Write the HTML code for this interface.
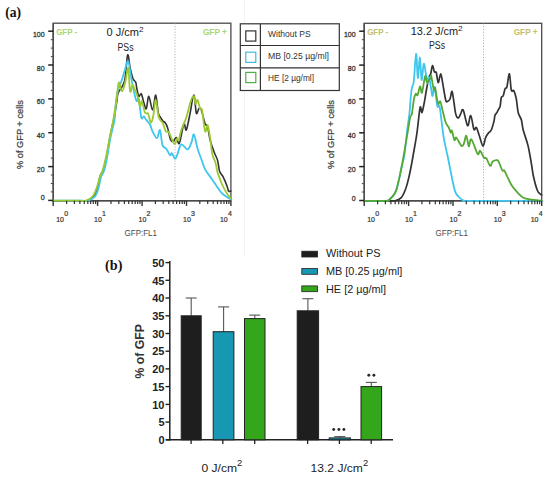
<!DOCTYPE html>
<html><head><meta charset="utf-8"><style>
html,body{margin:0;padding:0;background:#fff;width:550px;height:479px;overflow:hidden}
svg{display:block}
</style></head><body>
<svg width="550" height="479" viewBox="0 0 550 479">
<rect width="550" height="479" fill="#fff"/>
<text x="5.2" y="17.2" font-family="Liberation Serif, serif" font-weight="bold" font-size="14" fill="#111" textLength="15.8" lengthAdjust="spacingAndGlyphs">(a)</text>
<rect x="53.2" y="23.2" width="177.7" height="177.5" fill="none" stroke="#4a4a4a" stroke-width="1.3"/>
<line x1="175" y1="23.2" x2="175" y2="200.7" stroke="#a0a0a0" stroke-width="0.8" stroke-dasharray="1.2,1.6"/>
<line x1="53.2" y1="200.7" x2="230.9" y2="200.7" stroke="#4a4a4a" stroke-width="1.4"/>
<line x1="53.2" y1="23.2" x2="53.2" y2="200.7" stroke="#4a4a4a" stroke-width="1.3"/>
<path fill="none" stroke="#333333" stroke-width="1.6" stroke-linejoin="round" stroke-linecap="round" d="M53.0,200.7 C57.5,200.7 74.3,200.7 80.0,200.7 C85.7,200.7 84.7,201.4 87.0,200.7 C89.3,200.0 92.0,198.6 93.8,196.4 C95.6,194.2 96.5,190.9 97.6,187.6 C98.6,184.2 99.2,179.2 100.1,176.3 C101.0,173.4 102.2,173.1 103.2,170.0 C104.2,166.9 105.2,163.1 106.4,157.5 C107.6,151.9 108.8,142.8 110.1,136.3 C111.3,129.9 112.8,124.8 113.9,118.8 C115.1,112.8 116.3,104.4 117.0,100.0 C117.7,95.6 117.0,95.7 118.2,92.6 C119.5,89.5 122.9,87.6 124.5,81.3 C126.1,75.0 126.7,57.3 127.6,55.0 C128.5,52.7 129.3,63.8 130.1,67.6 C130.9,71.4 132.0,75.5 132.6,77.6 C133.2,79.7 133.3,79.2 133.8,80.0 C134.3,80.8 135.3,81.1 135.8,82.6 C136.3,84.1 136.4,86.5 136.9,88.8 C137.4,91.1 138.1,95.5 138.8,96.3 C139.5,97.1 140.5,92.8 141.3,93.8 C142.1,94.8 143.0,100.1 143.8,102.6 C144.6,105.1 145.5,109.8 146.3,108.8 C147.1,107.8 147.8,96.1 148.8,96.3 C149.9,96.5 151.4,110.2 152.6,110.0 C153.8,109.8 154.8,94.6 155.7,95.0 C156.6,95.4 157.4,108.8 158.2,112.6 C159.0,116.4 159.9,116.1 160.7,117.6 C161.5,119.1 162.5,120.6 163.2,121.4 C163.9,122.2 164.3,121.5 165.0,122.5 C165.7,123.5 166.6,124.6 167.5,127.5 C168.4,130.4 169.7,137.8 170.7,140.0 C171.7,142.2 172.6,141.4 173.5,141.0 C174.4,140.6 175.3,137.1 176.3,137.5 C177.3,137.9 178.2,145.5 179.4,143.2 C180.7,140.9 182.7,126.0 183.8,123.8 C185.0,121.6 185.3,131.7 186.3,130.0 C187.3,128.3 188.8,119.6 190.0,113.8 C191.2,108.0 192.8,95.1 193.8,95.0 C194.9,94.9 195.5,110.9 196.3,113.2 C197.1,115.5 198.0,109.3 198.8,108.8 C199.6,108.3 200.2,107.5 201.3,110.0 C202.4,112.5 204.1,121.2 205.1,123.9 C206.1,126.6 206.8,123.7 207.6,126.4 C208.4,129.1 209.0,135.7 210.1,140.0 C211.2,144.3 212.9,148.8 214.2,152.2 C215.4,155.6 216.7,157.2 217.6,160.4 C218.5,163.6 218.7,168.6 219.6,171.3 C220.5,174.0 221.8,174.2 223.0,176.7 C224.2,179.2 226.2,183.8 227.1,186.2 C228.0,188.6 227.9,190.2 228.5,191.0 C229.1,191.8 230.5,191.0 230.9,191.0"/>
<path fill="none" stroke="#3ec6ee" stroke-width="1.8" stroke-linejoin="round" stroke-linecap="round" d="M53.0,200.7 C57.7,200.7 75.2,200.7 81.0,200.7 C86.8,200.7 85.7,201.4 88.0,200.7 C90.3,200.0 93.2,198.6 95.0,196.5 C96.8,194.4 97.5,191.2 98.5,188.0 C99.5,184.8 100.1,179.8 101.0,177.0 C101.9,174.2 103.0,174.2 104.0,171.0 C105.0,167.8 105.9,163.7 107.0,158.0 C108.1,152.3 109.3,143.3 110.6,137.0 C111.8,130.7 113.7,125.3 114.5,120.0 C115.3,114.7 115.2,109.8 115.7,105.0 C116.2,100.2 116.6,95.4 117.6,91.4 C118.5,87.5 120.2,84.7 121.4,81.3 C122.6,77.9 123.4,74.6 124.5,71.3 C125.6,68.0 127.0,60.0 128.2,61.3 C129.3,62.5 130.3,73.0 131.4,78.8 C132.5,84.6 134.1,92.5 135.0,96.3 C135.9,100.0 136.3,100.9 136.9,101.3 C137.5,101.7 138.1,96.1 138.8,98.8 C139.5,101.5 140.5,114.7 141.3,117.6 C142.1,120.5 143.0,115.9 143.8,116.3 C144.6,116.7 145.3,118.7 146.3,120.1 C147.3,121.5 149.0,122.6 150.0,124.5 C151.0,126.4 151.3,129.0 152.5,131.3 C153.7,133.6 155.7,138.4 156.9,138.2 C158.2,138.0 159.1,128.8 160.0,130.0 C160.9,131.2 161.4,142.0 162.5,145.1 C163.6,148.2 165.1,147.1 166.3,148.8 C167.6,150.5 169.1,154.4 170.0,155.1 C170.9,155.8 171.1,152.6 171.9,153.2 C172.8,153.8 174.2,158.7 175.1,158.8 C176.0,158.9 176.6,156.2 177.6,153.8 C178.6,151.4 179.6,145.1 181.3,144.4 C183.0,143.7 185.9,149.7 187.6,149.4 C189.3,149.1 190.3,145.1 191.4,142.6 C192.5,140.1 192.9,133.4 193.9,134.4 C194.9,135.4 196.4,144.7 197.6,148.8 C198.8,152.9 200.0,155.5 201.3,159.0 C202.6,162.5 203.6,166.5 205.4,169.9 C207.2,173.3 210.2,176.5 212.2,179.4 C214.2,182.3 215.8,185.1 217.6,187.6 C219.4,190.1 220.8,192.4 223.0,194.3 C225.2,196.2 229.2,198.3 230.5,199.1"/>
<path fill="none" stroke="#9cc832" stroke-width="1.8" stroke-linejoin="round" stroke-linecap="round" d="M53.0,200.7 C57.3,200.7 73.5,200.7 79.0,200.7 C84.5,200.7 83.7,201.5 86.0,200.7 C88.3,199.9 91.2,198.3 93.0,196.0 C94.8,193.7 95.8,190.3 97.0,187.0 C98.2,183.7 99.1,178.7 100.0,176.0 C100.9,173.3 101.5,174.2 102.5,171.0 C103.5,167.8 104.8,162.8 106.0,157.0 C107.2,151.2 108.8,142.4 110.0,136.0 C111.2,129.6 112.4,124.8 113.5,118.8 C114.6,112.8 115.6,106.0 116.5,100.0 C117.4,94.0 117.9,84.0 118.8,82.6 C119.7,81.2 120.9,91.6 122.0,91.4 C123.1,91.2 124.4,85.2 125.4,81.3 C126.4,77.4 127.4,66.5 128.2,68.2 C129.0,69.9 129.4,88.6 130.1,91.4 C130.8,94.2 131.7,85.2 132.5,85.0 C133.3,84.8 134.2,88.1 135.0,90.0 C135.8,91.9 136.7,93.6 137.5,96.3 C138.3,99.0 139.3,105.5 140.0,106.3 C140.7,107.1 141.1,100.2 141.9,101.3 C142.7,102.3 143.9,110.5 145.0,112.6 C146.1,114.7 147.2,112.1 148.2,113.8 C149.1,115.5 149.9,122.2 150.7,122.6 C151.5,123.0 152.4,120.1 153.2,116.3 C154.0,112.5 154.8,99.8 155.7,100.0 C156.6,100.2 157.7,113.8 158.8,117.6 C160.0,121.4 161.4,120.3 162.6,122.6 C163.8,124.9 164.7,129.7 165.7,131.3 C166.7,133.0 167.4,130.4 168.8,132.5 C170.2,134.6 173.1,142.8 174.4,143.8 C175.8,144.9 176.2,139.4 176.9,138.8 C177.6,138.2 178.1,141.4 178.8,140.0 C179.5,138.6 180.1,133.8 181.3,130.1 C182.6,126.4 184.7,122.4 186.3,117.6 C187.9,112.8 189.4,104.8 190.7,101.3 C191.9,97.8 193.0,95.9 193.8,96.3 C194.6,96.7 195.1,103.2 195.7,103.8 C196.3,104.4 196.9,99.2 197.6,100.0 C198.3,100.8 199.4,107.1 200.1,108.8 C200.8,110.5 201.2,106.2 202.0,110.0 C202.8,113.8 204.2,128.9 205.1,131.4 C206.0,133.9 206.8,124.1 207.6,125.1 C208.4,126.1 209.3,132.8 210.1,137.6 C210.9,142.3 211.3,149.3 212.2,153.6 C213.1,157.8 214.7,159.9 215.6,163.1 C216.5,166.3 216.6,169.2 217.6,172.6 C218.6,176.0 220.3,180.3 221.7,183.5 C223.1,186.7 224.3,189.1 225.8,191.6 C227.3,194.1 229.7,197.3 230.5,198.4"/>
<line x1="48.2" y1="200.4" x2="53.2" y2="200.4" stroke="#222" stroke-width="1.5"/>
<text x="44.6" y="200.4" font-family="Liberation Sans, sans-serif" font-size="7" fill="#3a3a3a" stroke="#3a3a3a" stroke-width="0.3" text-anchor="end">0</text>
<line x1="50.800000000000004" y1="191.9" x2="53.2" y2="191.9" stroke="#4a4a4a" stroke-width="1"/>
<line x1="50.800000000000004" y1="183.5" x2="53.2" y2="183.5" stroke="#4a4a4a" stroke-width="1"/>
<line x1="50.800000000000004" y1="175.0" x2="53.2" y2="175.0" stroke="#4a4a4a" stroke-width="1"/>
<line x1="48.2" y1="166.6" x2="53.2" y2="166.6" stroke="#222" stroke-width="1.5"/>
<text x="44.6" y="172.1" font-family="Liberation Sans, sans-serif" font-size="7" fill="#3a3a3a" stroke="#3a3a3a" stroke-width="0.3" text-anchor="end">20</text>
<line x1="50.800000000000004" y1="158.1" x2="53.2" y2="158.1" stroke="#4a4a4a" stroke-width="1"/>
<line x1="50.800000000000004" y1="149.6" x2="53.2" y2="149.6" stroke="#4a4a4a" stroke-width="1"/>
<line x1="50.800000000000004" y1="141.2" x2="53.2" y2="141.2" stroke="#4a4a4a" stroke-width="1"/>
<line x1="48.2" y1="132.7" x2="53.2" y2="132.7" stroke="#222" stroke-width="1.5"/>
<text x="44.6" y="138.2" font-family="Liberation Sans, sans-serif" font-size="7" fill="#3a3a3a" stroke="#3a3a3a" stroke-width="0.3" text-anchor="end">40</text>
<line x1="50.800000000000004" y1="124.3" x2="53.2" y2="124.3" stroke="#4a4a4a" stroke-width="1"/>
<line x1="50.800000000000004" y1="115.8" x2="53.2" y2="115.8" stroke="#4a4a4a" stroke-width="1"/>
<line x1="50.800000000000004" y1="107.3" x2="53.2" y2="107.3" stroke="#4a4a4a" stroke-width="1"/>
<line x1="48.2" y1="98.9" x2="53.2" y2="98.9" stroke="#222" stroke-width="1.5"/>
<text x="44.6" y="104.4" font-family="Liberation Sans, sans-serif" font-size="7" fill="#3a3a3a" stroke="#3a3a3a" stroke-width="0.3" text-anchor="end">60</text>
<line x1="50.800000000000004" y1="90.4" x2="53.2" y2="90.4" stroke="#4a4a4a" stroke-width="1"/>
<line x1="50.800000000000004" y1="82.0" x2="53.2" y2="82.0" stroke="#4a4a4a" stroke-width="1"/>
<line x1="50.800000000000004" y1="73.5" x2="53.2" y2="73.5" stroke="#4a4a4a" stroke-width="1"/>
<line x1="48.2" y1="65.0" x2="53.2" y2="65.0" stroke="#222" stroke-width="1.5"/>
<text x="44.6" y="70.5" font-family="Liberation Sans, sans-serif" font-size="7" fill="#3a3a3a" stroke="#3a3a3a" stroke-width="0.3" text-anchor="end">80</text>
<line x1="50.800000000000004" y1="56.6" x2="53.2" y2="56.6" stroke="#4a4a4a" stroke-width="1"/>
<line x1="50.800000000000004" y1="48.1" x2="53.2" y2="48.1" stroke="#4a4a4a" stroke-width="1"/>
<line x1="50.800000000000004" y1="39.7" x2="53.2" y2="39.7" stroke="#4a4a4a" stroke-width="1"/>
<line x1="48.2" y1="31.2" x2="53.2" y2="31.2" stroke="#222" stroke-width="1.5"/>
<text x="44.6" y="36.7" font-family="Liberation Sans, sans-serif" font-size="7" fill="#3a3a3a" stroke="#3a3a3a" stroke-width="0.3" text-anchor="end">100</text>
<line x1="53.2" y1="200.7" x2="53.2" y2="205.89999999999998" stroke="#333" stroke-width="1.4"/>
<line x1="66.6" y1="200.7" x2="66.6" y2="204.1" stroke="#333" stroke-width="1.2"/>
<line x1="74.4" y1="200.7" x2="74.4" y2="204.1" stroke="#333" stroke-width="1.2"/>
<line x1="79.9" y1="200.7" x2="79.9" y2="204.1" stroke="#333" stroke-width="1.2"/>
<line x1="84.3" y1="200.7" x2="84.3" y2="204.1" stroke="#333" stroke-width="1.2"/>
<line x1="87.8" y1="200.7" x2="87.8" y2="204.1" stroke="#333" stroke-width="1.2"/>
<line x1="90.7" y1="200.7" x2="90.7" y2="204.1" stroke="#333" stroke-width="1.2"/>
<line x1="93.3" y1="200.7" x2="93.3" y2="204.1" stroke="#333" stroke-width="1.2"/>
<line x1="95.6" y1="200.7" x2="95.6" y2="204.1" stroke="#333" stroke-width="1.2"/>
<line x1="97.6" y1="200.7" x2="97.6" y2="205.89999999999998" stroke="#333" stroke-width="1.4"/>
<line x1="111.0" y1="200.7" x2="111.0" y2="204.1" stroke="#333" stroke-width="1.2"/>
<line x1="118.8" y1="200.7" x2="118.8" y2="204.1" stroke="#333" stroke-width="1.2"/>
<line x1="124.4" y1="200.7" x2="124.4" y2="204.1" stroke="#333" stroke-width="1.2"/>
<line x1="128.7" y1="200.7" x2="128.7" y2="204.1" stroke="#333" stroke-width="1.2"/>
<line x1="132.2" y1="200.7" x2="132.2" y2="204.1" stroke="#333" stroke-width="1.2"/>
<line x1="135.2" y1="200.7" x2="135.2" y2="204.1" stroke="#333" stroke-width="1.2"/>
<line x1="137.7" y1="200.7" x2="137.7" y2="204.1" stroke="#333" stroke-width="1.2"/>
<line x1="140.0" y1="200.7" x2="140.0" y2="204.1" stroke="#333" stroke-width="1.2"/>
<line x1="142.1" y1="200.7" x2="142.1" y2="205.89999999999998" stroke="#333" stroke-width="1.4"/>
<line x1="155.4" y1="200.7" x2="155.4" y2="204.1" stroke="#333" stroke-width="1.2"/>
<line x1="163.2" y1="200.7" x2="163.2" y2="204.1" stroke="#333" stroke-width="1.2"/>
<line x1="168.8" y1="200.7" x2="168.8" y2="204.1" stroke="#333" stroke-width="1.2"/>
<line x1="173.1" y1="200.7" x2="173.1" y2="204.1" stroke="#333" stroke-width="1.2"/>
<line x1="176.6" y1="200.7" x2="176.6" y2="204.1" stroke="#333" stroke-width="1.2"/>
<line x1="179.6" y1="200.7" x2="179.6" y2="204.1" stroke="#333" stroke-width="1.2"/>
<line x1="182.2" y1="200.7" x2="182.2" y2="204.1" stroke="#333" stroke-width="1.2"/>
<line x1="184.4" y1="200.7" x2="184.4" y2="204.1" stroke="#333" stroke-width="1.2"/>
<line x1="186.5" y1="200.7" x2="186.5" y2="205.89999999999998" stroke="#333" stroke-width="1.4"/>
<line x1="199.8" y1="200.7" x2="199.8" y2="204.1" stroke="#333" stroke-width="1.2"/>
<line x1="207.7" y1="200.7" x2="207.7" y2="204.1" stroke="#333" stroke-width="1.2"/>
<line x1="213.2" y1="200.7" x2="213.2" y2="204.1" stroke="#333" stroke-width="1.2"/>
<line x1="217.5" y1="200.7" x2="217.5" y2="204.1" stroke="#333" stroke-width="1.2"/>
<line x1="221.0" y1="200.7" x2="221.0" y2="204.1" stroke="#333" stroke-width="1.2"/>
<line x1="224.0" y1="200.7" x2="224.0" y2="204.1" stroke="#333" stroke-width="1.2"/>
<line x1="226.6" y1="200.7" x2="226.6" y2="204.1" stroke="#333" stroke-width="1.2"/>
<line x1="228.9" y1="200.7" x2="228.9" y2="204.1" stroke="#333" stroke-width="1.2"/>
<line x1="230.9" y1="200.7" x2="230.9" y2="205.89999999999998" stroke="#333" stroke-width="1.4"/>
<text x="56.2" y="221.5" font-family="Liberation Sans, sans-serif" font-size="7" fill="#333" stroke="#333" stroke-width="0.2">10</text>
<text x="64.2" y="216.4" font-family="Liberation Sans, sans-serif" font-size="7" fill="#333" stroke="#333" stroke-width="0.2">0</text>
<text x="94.1" y="221.5" font-family="Liberation Sans, sans-serif" font-size="7" fill="#333" stroke="#333" stroke-width="0.2">10</text>
<text x="102.1" y="216.4" font-family="Liberation Sans, sans-serif" font-size="7" fill="#333" stroke="#333" stroke-width="0.2">1</text>
<text x="138.6" y="221.5" font-family="Liberation Sans, sans-serif" font-size="7" fill="#333" stroke="#333" stroke-width="0.2">10</text>
<text x="146.6" y="216.4" font-family="Liberation Sans, sans-serif" font-size="7" fill="#333" stroke="#333" stroke-width="0.2">2</text>
<text x="183.0" y="221.5" font-family="Liberation Sans, sans-serif" font-size="7" fill="#333" stroke="#333" stroke-width="0.2">10</text>
<text x="191.0" y="216.4" font-family="Liberation Sans, sans-serif" font-size="7" fill="#333" stroke="#333" stroke-width="0.2">3</text>
<text x="219.9" y="221.5" font-family="Liberation Sans, sans-serif" font-size="7" fill="#333" stroke="#333" stroke-width="0.2">10</text>
<text x="227.9" y="216.4" font-family="Liberation Sans, sans-serif" font-size="7" fill="#333" stroke="#333" stroke-width="0.2">4</text>
<text x="124.60000000000001" y="235.8" font-family="Liberation Sans, sans-serif" font-size="9" fill="#4a4a4a" textLength="32.3" lengthAdjust="spacingAndGlyphs">GFP:FL1</text>
<text transform="translate(23.400000000000002,169) rotate(-90)" x="0" y="0" font-family="Liberation Sans, sans-serif" font-size="9.6" fill="#444" stroke="#444" stroke-width="0.25" textLength="69" lengthAdjust="spacingAndGlyphs">% of GFP + cells</text>
<text x="56.2" y="35" font-family="Liberation Sans, sans-serif" font-weight="bold" font-size="8.5" fill="#a9d675" textLength="21" lengthAdjust="spacingAndGlyphs">GFP -</text>
<text x="202.9" y="35" font-family="Liberation Sans, sans-serif" font-weight="bold" font-size="8.5" fill="#a9d675" textLength="24" lengthAdjust="spacingAndGlyphs">GFP +</text>
<text x="106.6" y="36.2" font-family="Liberation Sans, sans-serif" font-size="10" fill="#222" textLength="37" lengthAdjust="spacingAndGlyphs">0 J/cm<tspan dy="-3.8" font-size="7.5">2</tspan></text>
<text x="117.5" y="50.6" font-family="Liberation Sans, sans-serif" font-size="10" fill="#222" textLength="16" lengthAdjust="spacingAndGlyphs">PSs</text>
<rect x="364.2" y="23.3" width="177.50000000000006" height="177.5" fill="none" stroke="#4a4a4a" stroke-width="1.3"/>
<line x1="483.5" y1="23.3" x2="483.5" y2="200.8" stroke="#a0a0a0" stroke-width="0.8" stroke-dasharray="1.2,1.6"/>
<line x1="364.2" y1="200.8" x2="541.7" y2="200.8" stroke="#4a4a4a" stroke-width="1.4"/>
<line x1="364.2" y1="23.3" x2="364.2" y2="200.8" stroke="#4a4a4a" stroke-width="1.3"/>
<path fill="none" stroke="#333333" stroke-width="1.7" stroke-linejoin="round" stroke-linecap="round" d="M364.0,200.8 C368.0,200.8 382.8,200.8 388.0,200.8 C393.2,200.8 392.8,201.3 395.0,200.8 C397.2,200.3 399.5,199.6 401.3,197.6 C403.1,195.6 404.4,192.1 405.7,188.8 C406.9,185.5 407.9,181.6 408.8,177.6 C409.8,173.6 410.7,168.8 411.4,165.0 C412.1,161.2 412.3,160.4 413.2,155.0 C414.1,149.6 415.9,140.5 417.0,132.6 C418.1,124.7 419.3,110.8 420.1,107.5 C420.9,104.2 421.3,113.5 422.0,112.5 C422.7,111.5 423.8,105.0 424.5,101.3 C425.2,97.5 425.7,94.0 426.4,90.0 C427.1,86.0 428.2,80.3 428.9,77.6 C429.6,74.9 430.1,75.8 430.7,73.8 C431.3,71.8 431.9,65.9 432.5,65.6 C433.1,65.3 433.8,70.8 434.4,71.9 C435.0,73.1 435.7,70.7 436.3,72.5 C436.9,74.3 437.5,82.4 438.2,82.6 C438.9,82.8 440.0,73.8 440.7,73.8 C441.4,73.8 441.8,78.2 442.6,82.6 C443.4,87.0 444.9,97.0 445.7,100.1 C446.5,103.2 446.9,101.6 447.6,101.4 C448.3,101.2 449.4,100.5 450.1,98.8 C450.8,97.1 451.4,90.9 452.0,91.3 C452.6,91.7 453.2,97.6 453.8,101.4 C454.4,105.2 455.0,111.1 455.7,113.9 C456.4,116.7 457.4,118.1 458.2,118.1 C459.0,118.1 459.9,115.1 460.7,113.8 C461.5,112.5 462.0,108.0 463.2,110.0 C464.4,112.0 466.4,124.8 467.6,125.7 C468.9,126.6 469.6,115.0 470.7,115.6 C471.8,116.2 472.9,127.4 473.9,129.4 C474.8,131.4 475.5,126.3 476.4,127.5 C477.3,128.7 478.4,133.2 479.5,136.3 C480.6,139.4 482.0,145.8 483.0,146.0 C484.0,146.2 484.7,139.8 485.6,137.6 C486.5,135.4 487.6,134.2 488.5,132.9 C489.4,131.6 490.4,132.1 491.3,130.0 C492.2,128.0 493.5,123.1 494.1,120.6 C494.7,118.1 494.5,116.4 495.0,115.1 C495.5,113.8 496.3,113.6 496.9,112.6 C497.5,111.6 498.3,109.9 498.8,108.9 C499.3,107.9 499.7,108.3 500.1,106.4 C500.5,104.5 500.8,99.4 501.3,97.6 C501.8,95.8 502.6,97.2 503.2,95.7 C503.8,94.2 504.5,90.3 505.1,88.8 C505.7,87.3 506.2,89.4 506.9,86.9 C507.6,84.4 508.7,73.3 509.4,73.8 C510.1,74.3 510.6,87.3 511.3,90.1 C512.0,92.9 513.0,89.2 513.8,90.7 C514.6,92.2 515.6,95.2 516.3,98.8 C517.0,102.4 517.4,109.1 518.2,112.6 C519.1,116.1 520.6,117.1 521.4,120.0 C522.2,122.9 522.1,125.8 523.2,130.0 C524.3,134.2 526.6,140.1 527.9,145.1 C529.2,150.1 529.8,154.8 530.8,160.1 C531.8,165.4 532.5,172.0 533.6,177.0 C534.7,182.0 536.2,187.4 537.3,190.2 C538.4,193.0 539.5,193.2 540.2,194.0 C540.9,194.8 541.5,194.8 541.7,194.9"/>
<path fill="none" stroke="#3ec6ee" stroke-width="1.8" stroke-linejoin="round" stroke-linecap="round" d="M364.0,200.8 C366.8,200.8 377.1,200.8 381.0,200.8 C384.9,200.8 385.6,201.5 387.5,200.8 C389.4,200.1 391.1,198.2 392.6,196.4 C394.1,194.6 395.2,193.2 396.3,190.1 C397.4,187.0 398.4,181.8 399.4,177.6 C400.3,173.4 401.2,168.8 402.0,165.0 C402.8,161.2 403.6,160.4 404.4,155.0 C405.2,149.6 406.1,139.5 406.9,132.6 C407.7,125.7 408.8,119.2 409.4,113.8 C410.0,108.4 410.1,104.4 410.5,100.0 C410.9,95.6 411.4,90.7 412.0,87.6 C412.6,84.5 413.1,87.0 413.8,81.4 C414.5,75.8 415.4,54.4 416.1,53.8 C416.8,53.2 417.2,77.4 417.8,78.0 C418.4,78.6 419.3,57.2 419.9,57.5 C420.5,57.8 421.0,79.0 421.6,80.0 C422.2,81.0 423.1,64.8 423.8,63.8 C424.5,62.8 425.3,70.8 425.9,74.0 C426.5,77.2 427.1,82.5 427.6,83.0 C428.1,83.5 428.4,76.2 429.0,77.0 C429.6,77.8 430.4,84.8 431.0,88.0 C431.6,91.2 432.0,96.2 432.6,96.0 C433.2,95.8 433.8,85.3 434.6,87.0 C435.4,88.7 436.5,102.8 437.3,106.0 C438.1,109.2 438.8,104.0 439.5,106.3 C440.2,108.6 440.7,114.7 441.4,120.0 C442.1,125.3 443.0,133.0 443.8,138.0 C444.6,143.0 445.6,146.6 446.3,150.1 C447.0,153.6 447.3,154.2 448.2,158.8 C449.1,163.4 450.8,172.2 451.9,177.6 C453.0,183.0 454.0,188.2 455.1,191.4 C456.2,194.6 457.4,195.5 458.8,197.0 C460.2,198.5 461.9,199.9 463.8,200.5 C465.7,201.1 457.0,200.8 470.0,200.8 C483.0,200.9 529.8,200.8 541.7,200.8"/>
<path fill="none" stroke="#56a834" stroke-width="1.8" stroke-linejoin="round" stroke-linecap="round" d="M364.0,200.8 C366.8,200.8 377.1,200.8 381.0,200.8 C384.9,200.8 385.6,201.5 387.5,200.8 C389.4,200.1 391.1,198.2 392.6,196.4 C394.1,194.6 395.2,193.2 396.3,190.1 C397.4,187.0 398.4,181.8 399.4,177.6 C400.3,173.4 401.3,168.8 402.0,165.0 C402.7,161.2 402.9,160.4 403.8,155.0 C404.7,149.6 406.6,138.8 407.6,132.6 C408.7,126.4 409.4,120.7 410.1,117.6 C410.8,114.5 411.3,116.7 411.9,113.8 C412.5,110.9 413.2,103.3 413.8,100.0 C414.4,96.7 415.1,94.7 415.7,93.9 C416.3,93.1 416.9,96.3 417.6,95.1 C418.3,93.8 419.4,86.8 420.1,86.4 C420.8,86.0 421.2,94.3 422.0,92.6 C422.8,90.9 424.3,78.0 425.1,76.3 C425.9,74.6 426.1,82.4 427.0,82.6 C427.9,82.8 430.1,78.6 430.8,77.6 C431.5,76.5 430.8,74.2 431.3,76.3 C431.8,78.4 433.2,88.1 433.8,90.0 C434.4,91.9 434.6,86.1 435.1,87.6 C435.6,89.1 436.5,96.2 437.0,98.9 C437.5,101.6 437.8,103.6 438.3,104.0 C438.9,104.4 439.6,100.4 440.3,101.4 C441.0,102.4 441.6,106.5 442.5,110.0 C443.4,113.5 444.6,119.6 445.7,122.5 C446.8,125.4 448.0,125.8 448.8,127.5 C449.6,129.2 450.2,132.1 450.7,132.6 C451.2,133.1 451.3,129.4 451.9,130.7 C452.5,131.9 453.7,138.9 454.4,140.1 C455.1,141.2 455.1,136.7 456.3,137.6 C457.5,138.5 460.1,144.7 461.3,145.7 C462.6,146.7 463.0,145.5 463.8,143.8 C464.6,142.1 465.5,135.3 466.3,135.7 C467.1,136.1 468.0,145.7 468.8,146.3 C469.6,146.9 469.9,138.1 471.4,139.4 C472.9,140.7 476.2,152.0 477.6,153.9 C479.1,155.8 479.1,150.1 480.1,150.7 C481.2,151.3 482.8,156.3 483.9,157.6 C484.9,158.9 485.3,156.9 486.4,158.3 C487.4,159.7 489.1,165.4 490.2,165.9 C491.2,166.4 491.5,162.4 492.7,161.5 C493.9,160.6 496.1,160.0 497.2,160.2 C498.3,160.4 498.2,161.0 499.1,162.7 C500.0,164.4 501.5,169.1 502.3,170.4 C503.1,171.7 503.5,169.6 504.2,170.4 C504.9,171.2 505.4,172.9 506.7,175.4 C508.0,177.9 509.9,182.6 511.8,185.6 C513.7,188.6 516.3,191.3 518.2,193.3 C520.1,195.3 521.2,196.6 523.3,197.7 C525.4,198.8 527.9,199.1 530.9,199.6 C533.9,200.1 539.6,200.4 541.4,200.6"/>
<line x1="359.2" y1="200.5" x2="364.2" y2="200.5" stroke="#222" stroke-width="1.5"/>
<text x="355.59999999999997" y="200.5" font-family="Liberation Sans, sans-serif" font-size="7" fill="#3a3a3a" stroke="#3a3a3a" stroke-width="0.3" text-anchor="end">0</text>
<line x1="361.8" y1="192.0" x2="364.2" y2="192.0" stroke="#4a4a4a" stroke-width="1"/>
<line x1="361.8" y1="183.6" x2="364.2" y2="183.6" stroke="#4a4a4a" stroke-width="1"/>
<line x1="361.8" y1="175.1" x2="364.2" y2="175.1" stroke="#4a4a4a" stroke-width="1"/>
<line x1="359.2" y1="166.6" x2="364.2" y2="166.6" stroke="#222" stroke-width="1.5"/>
<text x="355.59999999999997" y="172.1" font-family="Liberation Sans, sans-serif" font-size="7" fill="#3a3a3a" stroke="#3a3a3a" stroke-width="0.3" text-anchor="end">20</text>
<line x1="361.8" y1="158.2" x2="364.2" y2="158.2" stroke="#4a4a4a" stroke-width="1"/>
<line x1="361.8" y1="149.7" x2="364.2" y2="149.7" stroke="#4a4a4a" stroke-width="1"/>
<line x1="361.8" y1="141.2" x2="364.2" y2="141.2" stroke="#4a4a4a" stroke-width="1"/>
<line x1="359.2" y1="132.8" x2="364.2" y2="132.8" stroke="#222" stroke-width="1.5"/>
<text x="355.59999999999997" y="138.3" font-family="Liberation Sans, sans-serif" font-size="7" fill="#3a3a3a" stroke="#3a3a3a" stroke-width="0.3" text-anchor="end">40</text>
<line x1="361.8" y1="124.3" x2="364.2" y2="124.3" stroke="#4a4a4a" stroke-width="1"/>
<line x1="361.8" y1="115.8" x2="364.2" y2="115.8" stroke="#4a4a4a" stroke-width="1"/>
<line x1="361.8" y1="107.4" x2="364.2" y2="107.4" stroke="#4a4a4a" stroke-width="1"/>
<line x1="359.2" y1="98.9" x2="364.2" y2="98.9" stroke="#222" stroke-width="1.5"/>
<text x="355.59999999999997" y="104.4" font-family="Liberation Sans, sans-serif" font-size="7" fill="#3a3a3a" stroke="#3a3a3a" stroke-width="0.3" text-anchor="end">60</text>
<line x1="361.8" y1="90.5" x2="364.2" y2="90.5" stroke="#4a4a4a" stroke-width="1"/>
<line x1="361.8" y1="82.0" x2="364.2" y2="82.0" stroke="#4a4a4a" stroke-width="1"/>
<line x1="361.8" y1="73.5" x2="364.2" y2="73.5" stroke="#4a4a4a" stroke-width="1"/>
<line x1="359.2" y1="65.1" x2="364.2" y2="65.1" stroke="#222" stroke-width="1.5"/>
<text x="355.59999999999997" y="70.6" font-family="Liberation Sans, sans-serif" font-size="7" fill="#3a3a3a" stroke="#3a3a3a" stroke-width="0.3" text-anchor="end">80</text>
<line x1="361.8" y1="56.6" x2="364.2" y2="56.6" stroke="#4a4a4a" stroke-width="1"/>
<line x1="361.8" y1="48.1" x2="364.2" y2="48.1" stroke="#4a4a4a" stroke-width="1"/>
<line x1="361.8" y1="39.7" x2="364.2" y2="39.7" stroke="#4a4a4a" stroke-width="1"/>
<line x1="359.2" y1="31.2" x2="364.2" y2="31.2" stroke="#222" stroke-width="1.5"/>
<text x="355.59999999999997" y="36.7" font-family="Liberation Sans, sans-serif" font-size="7" fill="#3a3a3a" stroke="#3a3a3a" stroke-width="0.3" text-anchor="end">100</text>
<line x1="364.2" y1="200.8" x2="364.2" y2="206.0" stroke="#333" stroke-width="1.4"/>
<line x1="377.6" y1="200.8" x2="377.6" y2="204.20000000000002" stroke="#333" stroke-width="1.2"/>
<line x1="385.4" y1="200.8" x2="385.4" y2="204.20000000000002" stroke="#333" stroke-width="1.2"/>
<line x1="390.9" y1="200.8" x2="390.9" y2="204.20000000000002" stroke="#333" stroke-width="1.2"/>
<line x1="395.2" y1="200.8" x2="395.2" y2="204.20000000000002" stroke="#333" stroke-width="1.2"/>
<line x1="398.7" y1="200.8" x2="398.7" y2="204.20000000000002" stroke="#333" stroke-width="1.2"/>
<line x1="401.7" y1="200.8" x2="401.7" y2="204.20000000000002" stroke="#333" stroke-width="1.2"/>
<line x1="404.3" y1="200.8" x2="404.3" y2="204.20000000000002" stroke="#333" stroke-width="1.2"/>
<line x1="406.5" y1="200.8" x2="406.5" y2="204.20000000000002" stroke="#333" stroke-width="1.2"/>
<line x1="408.6" y1="200.8" x2="408.6" y2="206.0" stroke="#333" stroke-width="1.4"/>
<line x1="421.9" y1="200.8" x2="421.9" y2="204.20000000000002" stroke="#333" stroke-width="1.2"/>
<line x1="429.7" y1="200.8" x2="429.7" y2="204.20000000000002" stroke="#333" stroke-width="1.2"/>
<line x1="435.3" y1="200.8" x2="435.3" y2="204.20000000000002" stroke="#333" stroke-width="1.2"/>
<line x1="439.6" y1="200.8" x2="439.6" y2="204.20000000000002" stroke="#333" stroke-width="1.2"/>
<line x1="443.1" y1="200.8" x2="443.1" y2="204.20000000000002" stroke="#333" stroke-width="1.2"/>
<line x1="446.1" y1="200.8" x2="446.1" y2="204.20000000000002" stroke="#333" stroke-width="1.2"/>
<line x1="448.6" y1="200.8" x2="448.6" y2="204.20000000000002" stroke="#333" stroke-width="1.2"/>
<line x1="450.9" y1="200.8" x2="450.9" y2="204.20000000000002" stroke="#333" stroke-width="1.2"/>
<line x1="453.0" y1="200.8" x2="453.0" y2="206.0" stroke="#333" stroke-width="1.4"/>
<line x1="466.3" y1="200.8" x2="466.3" y2="204.20000000000002" stroke="#333" stroke-width="1.2"/>
<line x1="474.1" y1="200.8" x2="474.1" y2="204.20000000000002" stroke="#333" stroke-width="1.2"/>
<line x1="479.7" y1="200.8" x2="479.7" y2="204.20000000000002" stroke="#333" stroke-width="1.2"/>
<line x1="484.0" y1="200.8" x2="484.0" y2="204.20000000000002" stroke="#333" stroke-width="1.2"/>
<line x1="487.5" y1="200.8" x2="487.5" y2="204.20000000000002" stroke="#333" stroke-width="1.2"/>
<line x1="490.5" y1="200.8" x2="490.5" y2="204.20000000000002" stroke="#333" stroke-width="1.2"/>
<line x1="493.0" y1="200.8" x2="493.0" y2="204.20000000000002" stroke="#333" stroke-width="1.2"/>
<line x1="495.3" y1="200.8" x2="495.3" y2="204.20000000000002" stroke="#333" stroke-width="1.2"/>
<line x1="497.3" y1="200.8" x2="497.3" y2="206.0" stroke="#333" stroke-width="1.4"/>
<line x1="510.7" y1="200.8" x2="510.7" y2="204.20000000000002" stroke="#333" stroke-width="1.2"/>
<line x1="518.5" y1="200.8" x2="518.5" y2="204.20000000000002" stroke="#333" stroke-width="1.2"/>
<line x1="524.0" y1="200.8" x2="524.0" y2="204.20000000000002" stroke="#333" stroke-width="1.2"/>
<line x1="528.3" y1="200.8" x2="528.3" y2="204.20000000000002" stroke="#333" stroke-width="1.2"/>
<line x1="531.9" y1="200.8" x2="531.9" y2="204.20000000000002" stroke="#333" stroke-width="1.2"/>
<line x1="534.8" y1="200.8" x2="534.8" y2="204.20000000000002" stroke="#333" stroke-width="1.2"/>
<line x1="537.4" y1="200.8" x2="537.4" y2="204.20000000000002" stroke="#333" stroke-width="1.2"/>
<line x1="539.7" y1="200.8" x2="539.7" y2="204.20000000000002" stroke="#333" stroke-width="1.2"/>
<line x1="541.7" y1="200.8" x2="541.7" y2="206.0" stroke="#333" stroke-width="1.4"/>
<text x="367.2" y="221.5" font-family="Liberation Sans, sans-serif" font-size="7" fill="#333" stroke="#333" stroke-width="0.2">10</text>
<text x="375.2" y="216.4" font-family="Liberation Sans, sans-serif" font-size="7" fill="#333" stroke="#333" stroke-width="0.2">0</text>
<text x="405.1" y="221.5" font-family="Liberation Sans, sans-serif" font-size="7" fill="#333" stroke="#333" stroke-width="0.2">10</text>
<text x="413.1" y="216.4" font-family="Liberation Sans, sans-serif" font-size="7" fill="#333" stroke="#333" stroke-width="0.2">1</text>
<text x="449.5" y="221.5" font-family="Liberation Sans, sans-serif" font-size="7" fill="#333" stroke="#333" stroke-width="0.2">10</text>
<text x="457.5" y="216.4" font-family="Liberation Sans, sans-serif" font-size="7" fill="#333" stroke="#333" stroke-width="0.2">2</text>
<text x="493.8" y="221.5" font-family="Liberation Sans, sans-serif" font-size="7" fill="#333" stroke="#333" stroke-width="0.2">10</text>
<text x="501.8" y="216.4" font-family="Liberation Sans, sans-serif" font-size="7" fill="#333" stroke="#333" stroke-width="0.2">3</text>
<text x="530.7" y="221.5" font-family="Liberation Sans, sans-serif" font-size="7" fill="#333" stroke="#333" stroke-width="0.2">10</text>
<text x="538.7" y="216.4" font-family="Liberation Sans, sans-serif" font-size="7" fill="#333" stroke="#333" stroke-width="0.2">4</text>
<text x="435.6" y="235.8" font-family="Liberation Sans, sans-serif" font-size="9" fill="#4a4a4a" textLength="32.3" lengthAdjust="spacingAndGlyphs">GFP:FL1</text>
<text transform="translate(334.4,169) rotate(-90)" x="0" y="0" font-family="Liberation Sans, sans-serif" font-size="9.6" fill="#444" stroke="#444" stroke-width="0.25" textLength="69" lengthAdjust="spacingAndGlyphs">% of GFP + cells</text>
<text x="367.2" y="35" font-family="Liberation Sans, sans-serif" font-weight="bold" font-size="8.5" fill="#c2be6c" textLength="21" lengthAdjust="spacingAndGlyphs">GFP -</text>
<text x="513.7" y="35" font-family="Liberation Sans, sans-serif" font-weight="bold" font-size="8.5" fill="#c2be6c" textLength="24" lengthAdjust="spacingAndGlyphs">GFP +</text>
<text x="410.7" y="34.6" font-family="Liberation Sans, sans-serif" font-size="10" fill="#222" textLength="52" lengthAdjust="spacingAndGlyphs">13.2 J/cm<tspan dy="-3.8" font-size="7.5">2</tspan></text>
<text x="429" y="49.3" font-family="Liberation Sans, sans-serif" font-size="10" fill="#222" textLength="16" lengthAdjust="spacingAndGlyphs">PSs</text>
<line x1="244.5" y1="0" x2="244.5" y2="23" stroke="#f3f3f3" stroke-width="1"/><line x1="244.5" y1="91" x2="244.5" y2="256" stroke="#f3f3f3" stroke-width="1"/>
<rect x="240.3" y="23.8" width="99" height="66.7" fill="none" stroke="#333" stroke-width="1.2"/>
<line x1="260.4" y1="23.8" x2="260.4" y2="90.5" stroke="#333" stroke-width="1.2"/>
<line x1="240.3" y1="45.5" x2="339.3" y2="45.5" stroke="#333" stroke-width="1.2"/>
<line x1="240.3" y1="67.8" x2="339.3" y2="67.8" stroke="#333" stroke-width="1.2"/>
<rect x="245.8" y="30.9" width="10" height="10.2" fill="none" stroke="#333" stroke-width="1.2"/>
<text x="268" y="36.6" font-family="Liberation Sans, sans-serif" font-size="9" fill="#333" textLength="42.6" lengthAdjust="spacingAndGlyphs">Without PS</text>
<rect x="245.8" y="52.199999999999996" width="10" height="10.2" fill="none" stroke="#45b8d8" stroke-width="1.2"/>
<text x="268" y="58.5" font-family="Liberation Sans, sans-serif" font-size="9" fill="#333" textLength="61" lengthAdjust="spacingAndGlyphs">MB [0.25 µg/ml]</text>
<rect x="245.8" y="72.4" width="10" height="10.2" fill="none" stroke="#4cb040" stroke-width="1.2"/>
<text x="268" y="80.5" font-family="Liberation Sans, sans-serif" font-size="9" fill="#333" textLength="46" lengthAdjust="spacingAndGlyphs">HE [2 µg/ml]</text>
<text x="105" y="270.4" font-family="Liberation Serif, serif" font-weight="bold" font-size="14.5" fill="#111" textLength="17.4" lengthAdjust="spacingAndGlyphs">(b)</text>
<line x1="169.8" y1="261" x2="169.8" y2="440.5" stroke="#222" stroke-width="1.5"/>
<line x1="166" y1="439.8" x2="393" y2="439.8" stroke="#222" stroke-width="1.5"/>
<line x1="165.5" y1="439.8" x2="169.8" y2="439.8" stroke="#222" stroke-width="1.4"/>
<text x="164.5" y="444.0" font-family="Liberation Sans, sans-serif" font-weight="bold" font-size="11" fill="#222" text-anchor="end">0</text>
<line x1="165.5" y1="422.1" x2="169.8" y2="422.1" stroke="#222" stroke-width="1.4"/>
<text x="164.5" y="426.3" font-family="Liberation Sans, sans-serif" font-weight="bold" font-size="11" fill="#222" text-anchor="end">5</text>
<line x1="165.5" y1="404.4" x2="169.8" y2="404.4" stroke="#222" stroke-width="1.4"/>
<text x="164.5" y="408.6" font-family="Liberation Sans, sans-serif" font-weight="bold" font-size="11" fill="#222" text-anchor="end">10</text>
<line x1="165.5" y1="386.6" x2="169.8" y2="386.6" stroke="#222" stroke-width="1.4"/>
<text x="164.5" y="390.8" font-family="Liberation Sans, sans-serif" font-weight="bold" font-size="11" fill="#222" text-anchor="end">15</text>
<line x1="165.5" y1="368.9" x2="169.8" y2="368.9" stroke="#222" stroke-width="1.4"/>
<text x="164.5" y="373.1" font-family="Liberation Sans, sans-serif" font-weight="bold" font-size="11" fill="#222" text-anchor="end">20</text>
<line x1="165.5" y1="351.2" x2="169.8" y2="351.2" stroke="#222" stroke-width="1.4"/>
<text x="164.5" y="355.4" font-family="Liberation Sans, sans-serif" font-weight="bold" font-size="11" fill="#222" text-anchor="end">25</text>
<line x1="165.5" y1="333.5" x2="169.8" y2="333.5" stroke="#222" stroke-width="1.4"/>
<text x="164.5" y="337.7" font-family="Liberation Sans, sans-serif" font-weight="bold" font-size="11" fill="#222" text-anchor="end">30</text>
<line x1="165.5" y1="315.8" x2="169.8" y2="315.8" stroke="#222" stroke-width="1.4"/>
<text x="164.5" y="320.0" font-family="Liberation Sans, sans-serif" font-weight="bold" font-size="11" fill="#222" text-anchor="end">35</text>
<line x1="165.5" y1="298.0" x2="169.8" y2="298.0" stroke="#222" stroke-width="1.4"/>
<text x="164.5" y="302.2" font-family="Liberation Sans, sans-serif" font-weight="bold" font-size="11" fill="#222" text-anchor="end">40</text>
<line x1="165.5" y1="280.3" x2="169.8" y2="280.3" stroke="#222" stroke-width="1.4"/>
<text x="164.5" y="284.5" font-family="Liberation Sans, sans-serif" font-weight="bold" font-size="11" fill="#222" text-anchor="end">45</text>
<line x1="165.5" y1="262.6" x2="169.8" y2="262.6" stroke="#222" stroke-width="1.4"/>
<text x="164.5" y="266.8" font-family="Liberation Sans, sans-serif" font-weight="bold" font-size="11" fill="#222" text-anchor="end">50</text>
<line x1="191.1" y1="439.8" x2="191.1" y2="444" stroke="#222" stroke-width="1.3"/>
<line x1="222.8" y1="439.8" x2="222.8" y2="444" stroke="#222" stroke-width="1.3"/>
<line x1="254.7" y1="439.8" x2="254.7" y2="444" stroke="#222" stroke-width="1.3"/>
<line x1="307.6" y1="439.8" x2="307.6" y2="444" stroke="#222" stroke-width="1.3"/>
<line x1="339.4" y1="439.8" x2="339.4" y2="444" stroke="#222" stroke-width="1.3"/>
<line x1="371.2" y1="439.8" x2="371.2" y2="444" stroke="#222" stroke-width="1.3"/>
<line x1="191.2" y1="315.8" x2="191.2" y2="298.0" stroke="#555" stroke-width="1.1"/>
<line x1="185.7" y1="298.0" x2="196.7" y2="298.0" stroke="#555" stroke-width="1.1"/>
<rect x="181.2" y="315.8" width="20.0" height="124.0" fill="#1e1e1e" stroke="#222" stroke-width="1"/>
<line x1="223.6" y1="331.7" x2="223.6" y2="306.9" stroke="#555" stroke-width="1.1"/>
<line x1="218.1" y1="306.9" x2="229.1" y2="306.9" stroke="#555" stroke-width="1.1"/>
<rect x="213.2" y="331.7" width="20.7" height="108.1" fill="#1797b2" stroke="#222" stroke-width="1"/>
<line x1="254.8" y1="318.6" x2="254.8" y2="315.1" stroke="#555" stroke-width="1.1"/>
<line x1="249.2" y1="315.1" x2="260.2" y2="315.1" stroke="#555" stroke-width="1.1"/>
<rect x="244.5" y="318.6" width="20.5" height="121.2" fill="#33a61c" stroke="#222" stroke-width="1"/>
<line x1="307.9" y1="310.8" x2="307.9" y2="298.7" stroke="#555" stroke-width="1.1"/>
<line x1="302.4" y1="298.7" x2="313.4" y2="298.7" stroke="#555" stroke-width="1.1"/>
<rect x="297.2" y="310.8" width="21.4" height="129.0" fill="#1e1e1e" stroke="#222" stroke-width="1"/>
<line x1="339.8" y1="437.9" x2="339.8" y2="436.6" stroke="#555" stroke-width="1.1"/>
<line x1="334.3" y1="436.6" x2="345.3" y2="436.6" stroke="#555" stroke-width="1.1"/>
<rect x="329.2" y="437.9" width="21.2" height="1.9" fill="#1797b2" stroke="#222" stroke-width="1"/>
<line x1="371.3" y1="386.6" x2="371.3" y2="382.4" stroke="#555" stroke-width="1.1"/>
<line x1="365.8" y1="382.4" x2="376.8" y2="382.4" stroke="#555" stroke-width="1.1"/>
<rect x="361" y="386.6" width="20.6" height="53.2" fill="#33a61c" stroke="#222" stroke-width="1"/>
<circle cx="333.7" cy="429.5" r="1.45" fill="#2a2a2a"/>
<circle cx="338.9" cy="429.5" r="1.45" fill="#2a2a2a"/>
<circle cx="343.9" cy="429.5" r="1.45" fill="#2a2a2a"/>
<circle cx="368.8" cy="375.2" r="1.45" fill="#2a2a2a"/>
<circle cx="373.9" cy="375.2" r="1.45" fill="#2a2a2a"/>
<text transform="translate(144,378.6) rotate(-90)" font-family="Liberation Sans, sans-serif" font-weight="bold" font-size="12.5" fill="#333" textLength="54.6" lengthAdjust="spacingAndGlyphs">% of GFP</text>
<text transform="translate(201.5,471.5) scale(1.05,1)" font-family="Liberation Sans, sans-serif" font-size="11.5" fill="#222">0 J/cm<tspan dy="-5.6" font-size="9">2</tspan></text>
<text transform="translate(310.6,471.5) scale(1.05,1)" font-family="Liberation Sans, sans-serif" font-size="11.5" fill="#222">13.2 J/cm<tspan dy="-5.6" font-size="9">2</tspan></text>
<rect x="301.8" y="251.2" width="15.8" height="5.8" fill="#1e1e1e" stroke="#222" stroke-width="0.8"/>
<text transform="translate(326,257.0) scale(1.09,1)" font-family="Liberation Sans, sans-serif" font-size="10" fill="#222">Without PS</text>
<rect x="301.8" y="268.5" width="15.8" height="5.8" fill="#1797b2" stroke="#222" stroke-width="0.8"/>
<text transform="translate(326,274.8) scale(1.09,1)" font-family="Liberation Sans, sans-serif" font-size="10" fill="#222">MB [0.25 µg/ml]</text>
<rect x="301.8" y="285.9" width="15.8" height="5.8" fill="#33a61c" stroke="#222" stroke-width="0.8"/>
<text transform="translate(326,292.7) scale(1.09,1)" font-family="Liberation Sans, sans-serif" font-size="10" fill="#222">HE [2 µg/ml]</text>
</svg></body></html>
